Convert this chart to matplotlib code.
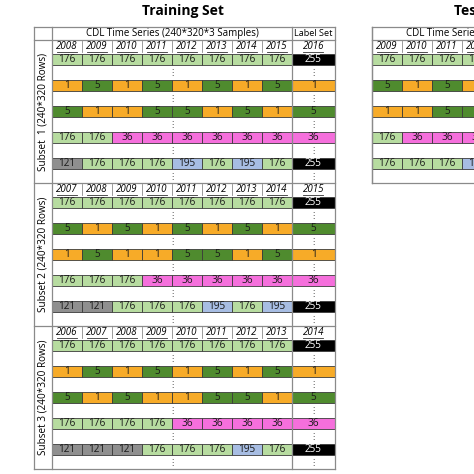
import matplotlib
matplotlib.use("Agg")
import matplotlib.pyplot as plt
from matplotlib.patches import Rectangle

train_years = [[2008, 2009, 2010, 2011, 2012, 2013, 2014, 2015, 2016],
               [2007, 2008, 2009, 2010, 2011, 2012, 2013, 2014, 2015],
               [2006, 2007, 2008, 2009, 2010, 2011, 2012, 2013, 2014]]
subset1 = [[176]*8 + [255],
           [1, 5, 1, 5, 1, 5, 1, 5, 1],
           [5, 1, 1, 5, 5, 1, 5, 1, 5],
           [176, 176, 36, 36, 36, 36, 36, 36, 36],
           [121, 176, 176, 176, 195, 176, 195, 176, 255]]
subset2 = [[176]*8 + [255],
           [5, 1, 5, 1, 5, 1, 5, 1, 5],
           [1, 5, 1, 1, 5, 5, 1, 5, 1],
           [176, 176, 176, 36, 36, 36, 36, 36, 36],
           [121, 121, 176, 176, 176, 195, 176, 195, 255]]
subset3 = [[176]*8 + [255],
           [1, 5, 1, 5, 1, 5, 1, 5, 1],
           [5, 1, 5, 1, 1, 5, 5, 1, 5],
           [176, 176, 176, 176, 36, 36, 36, 36, 36],
           [121, 121, 121, 176, 176, 176, 195, 176, 255]]
subset_labels = ["Subset  1 (240*320 Rows)", "Subset 2 (240*320 Rows)", "Subset 3 (240*320 Rows)"]
test_years = [2009, 2010, 2011, 2012, 2013, 2014, 2015, 2016, 2017]
test_rows = [[176]*8 + [255],
             [5, 1, 5, 1, 5, 1, 5, 1, 5],
             [1, 1, 5, 5, 1, 5, 1, 5, 1],
             [176, 36, 36, 36, 36, 36, 36, 36, 36],
             [176, 176, 176, 195, 176, 195, 176, 176, 255]]

colors = {176: "#b7dca0", 5: "#4f8b2e", 1: "#f7ab28", 36: "#f56fdc",
          121: "#8f8f8f", 195: "#a7bde3", 255: "#000000"}
FONT = "Open Sans"

fig = plt.figure(figsize=(4.74, 4.74), dpi=100)
ax = fig.add_axes([0, 0, 1, 1])
ax.set_xlim(0, 474)
ax.set_ylim(474, 0)
ax.axis("off")

RH = 13.0
CW = 30.0
LW = 43.0
GRID = "#8a8a8a"

def draw_table(x0, top, blocks, years_list, labels, title, tx):
    ax.text(tx, 11, title, ha="center", va="center", fontsize=10,
            fontweight="bold", family=FONT)
    xend = x0 + 8 * CW
    xr = xend + LW
    ax.text(x0 + 4 * CW, top + 6.5, "CDL Time Series (240*320*3 Samples)",
            ha="center", va="center", fontsize=7, family=FONT)
    ax.text(xend + LW / 2, top + 6.5, "Label Set", ha="center", va="center",
            fontsize=6.6, family=FONT)
    y = top + RH
    left = x0 - 18 if labels else x0
    ax.plot([left, xr], [top, top], color=GRID, lw=0.9)
    ax.plot([left, xr], [y, y], color=GRID, lw=0.9)
    for b, rows in enumerate(blocks):
        ys = y
        yrs = years_list[b]
        for j, yr in enumerate(yrs):
            cx = x0 + j * CW + CW / 2 if j < 8 else xend + LW / 2
            ax.text(cx, y + 6.3, str(yr), ha="center", va="center",
                    fontsize=7, style="italic", family=FONT)
            ax.plot([cx - 10, cx + 10], [y + 11.5, y + 11.5], color="#333", lw=0.6)
            if j < 8:
                ax.plot([x0 + (j + 1) * CW] * 2, [y + 1, y + 12], color=GRID, lw=0.6)
        y += RH
        for row in rows:
            for j, v in enumerate(row):
                if j < 8:
                    rx, w = x0 + j * CW, CW
                else:
                    rx, w = xend, LW
                ax.add_patch(Rectangle((rx, y + 0.8), w, RH - 1.6,
                                       facecolor=colors[v], edgecolor="#3a3a3a", lw=0.6))
                ax.text(rx + w / 2, y + 6.6, str(v), ha="center", va="center",
                        fontsize=7.2, family=FONT,
                        color="white" if v == 255 else "#1a1a1a")
            y += RH
            ax.text(x0 + 4 * CW, y + 6.2, "\u22ee", ha="center", va="center",
                    fontsize=6, color="#444")
            ax.text(xend + LW / 2, y + 6.2, "\u22ee", ha="center", va="center",
                    fontsize=6, color="#444")
            y += RH
        if labels:
            ax.text(left + 9, (ys + y) / 2, labels[b], rotation=90, ha="center",
                    va="center", fontsize=7.2, family=FONT)
        ax.plot([left, xr], [y, y], color=GRID, lw=0.9)
    ax.plot([left, left], [top, y], color=GRID, lw=0.9)
    ax.plot([x0, x0], [top, y], color=GRID, lw=0.9)
    ax.plot([xend, xend], [top, y], color=GRID, lw=0.9)
    ax.plot([xr, xr], [top, y], color=GRID, lw=0.9)

draw_table(52, 27, [subset1, subset2, subset3], train_years, subset_labels,
           "Training Set", 183)
draw_table(372, 27, [test_rows], [test_years], None, "Testing Set", 492)

fig.savefig("out.png", dpi=100)
